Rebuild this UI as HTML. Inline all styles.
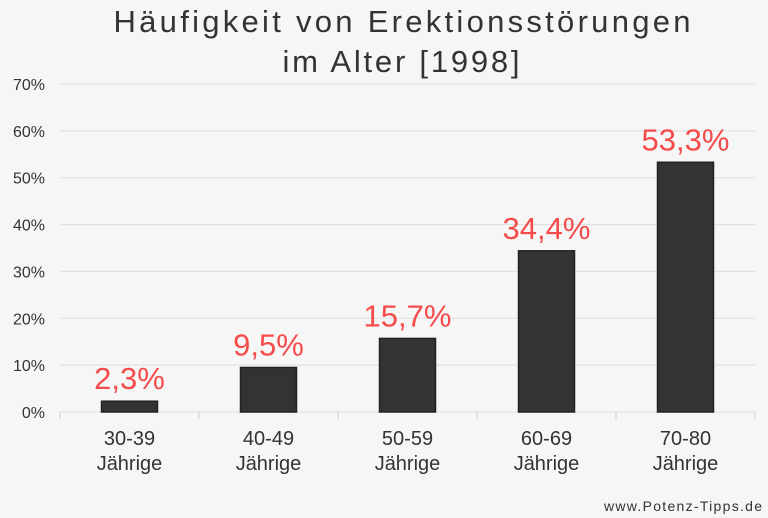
<!DOCTYPE html>
<html><head><meta charset="utf-8"><style>
body{margin:0;background:#f6f6f6;font-family:"Liberation Sans",sans-serif}
svg{display:block}
</style></head><body>
<svg id="c" width="768" height="518" viewBox="0 0 768 518">
<rect width="768" height="518" fill="#f6f6f6"/>
<text x="402" y="32" text-anchor="middle" font-size="31" fill="#333" textLength="577" lengthAdjust="spacing">Häufigkeit von Erektionsstörungen</text>
<text x="401" y="72" text-anchor="middle" font-size="31" fill="#333" textLength="237" lengthAdjust="spacing">im Alter [1998]</text>
<g id="grid"></g><g id="bars"></g>
<text x="762" y="511" text-anchor="end" font-size="14" fill="#333" textLength="158" lengthAdjust="spacing">www.Potenz-Tipps.de</text>
</svg>
<script>
const categories=["30-39","40-49","50-59","60-69","70-80"];
const values=[2.3,9.5,15.7,34.4,53.3];
const valueLabels=["2,3%","9,5%","15,7%","34,4%","53,3%"];
const ticks=[0,10,20,30,40,50,60,70];
const NS="http://www.w3.org/2000/svg";
const x0=60,x1=755,yZero=412,yTop=84,maxV=70;
const y=v=>yZero-(v/maxV)*(yZero-yTop);
const bw=(x1-x0)/categories.length;
function mk(tag,attrs,parent,text){const e=document.createElementNS(NS,tag);for(const k in attrs)e.setAttribute(k,attrs[k]);if(text!==undefined)e.textContent=text;parent.appendChild(e);return e;}
const g=document.getElementById('grid'),b=document.getElementById('bars');
ticks.forEach(t=>{
 const l=mk('line',{x1:x0,x2:x1,y1:y(t),y2:y(t),stroke:'#ddd','stroke-width':1},g);
 
 
 const tx=mk('text',{x:45,y:y(t)+6,'text-anchor':'end','font-size':16,fill:'#333'},g,t+'%');
 
 
});
for(let i=0;i<=categories.length;i++){
 const tk=mk('line',{x1:x0+i*bw,x2:x0+i*bw,y1:yZero,y2:yZero+7,stroke:'#ccc'},g);
 
 
}
categories.forEach((c,i)=>{
 const cx=x0+bw*(i+0.5),w=56;
 const r=mk('rect',{x:cx-w/2,y:y(values[i]),width:w,height:yZero-y(values[i]),fill:'#333',stroke:'#222','stroke-width':1.5},b);
 
 
 const vl=mk('text',{x:cx,y:y(values[i])-12,'text-anchor':'middle','font-size':31,fill:'#f54b4b'},b,valueLabels[i]);
 
 
 const l1=mk('text',{x:cx,y:445,'text-anchor':'middle','font-size':20,fill:'#333'},b,c);
 
 
 const l2=mk('text',{x:cx,y:470,'text-anchor':'middle','font-size':20,fill:'#333'},b,'Jährige');
 
 
});
</script>
</body></html>
